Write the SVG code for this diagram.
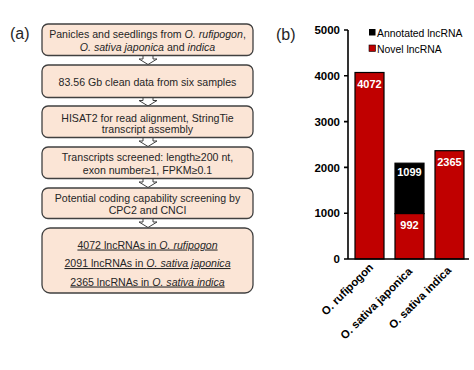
<svg xmlns="http://www.w3.org/2000/svg" width="474" height="370" viewBox="0 0 474 370">
<style>
text{font-family:"Liberation Sans",Arial,sans-serif;fill:#262626}
.box{fill:#FBE5D6;stroke:#404040;stroke-width:1.3}
.ft{font-size:10.6px;text-anchor:middle}
.arr{fill:#fff;stroke:#404040;stroke-width:1}
.lab{font-size:16px}
.tick{font-size:11.5px;font-weight:bold;text-anchor:end;fill:#000}
.ax{stroke:#000;stroke-width:1.6;fill:none}
.bar{stroke:#000;stroke-width:1.2}
.red{fill:#C00000}
.blk{fill:#000}
.bl{font-size:11px;font-weight:bold;fill:#fff;text-anchor:middle}
.xl{font-size:11.3px;font-weight:bold;text-anchor:end;fill:#000}
.lg{font-size:10.4px;fill:#000}
</style>
<rect width="474" height="370" fill="#fff"/>
<text class="lab" x="10" y="39">(a)</text>
<text class="lab" x="276" y="40">(b)</text>

<g id="connectors">
<path class="arr" d="M143,55.5 V59 H139 L148,64.5 L157,59 H153 V55.5"/>
<path class="arr" d="M143,97.5 V100.5 H139 L148,106 L157,100.5 H153 V97.5"/>
<path class="arr" d="M143,137.5 V141 H139 L148,146.5 L157,141 H153 V137.5"/>
<path class="arr" d="M143,178.5 V182 H139 L148,187.5 L157,182 H153 V178.5"/>
<path class="arr" d="M143,218.5 V222 H139 L148,227.5 L157,222 H153 V218.5"/>
</g>

<g id="n1">
<rect class="box" x="42" y="24" width="211" height="31.5" rx="6"/>
<text class="ft" x="147.5" y="38">Panicles and seedlings from <tspan font-style="italic">O. rufipogon</tspan>,</text>
<text class="ft" x="147.5" y="51"><tspan font-style="italic">O. sativa japonica</tspan> and <tspan font-style="italic">indica</tspan></text>
</g>
<g id="n2">
<rect class="box" x="42" y="65" width="211" height="32.5" rx="6"/>
<text class="ft" x="147.5" y="85.5">83.56 Gb clean data from six samples</text>
</g>
<g id="n3">
<rect class="box" x="42" y="106" width="211" height="31.5" rx="6"/>
<text class="ft" x="147.5" y="121.5">HISAT2 for read alignment,  StringTie</text>
<text class="ft" x="147.5" y="132.5">transcript assembly</text>
</g>
<g id="n4">
<rect class="box" x="42" y="147" width="211" height="31.5" rx="6"/>
<text class="ft" x="147.5" y="160.5">Transcripts screened: length≥200 nt,</text>
<text class="ft" x="147.5" y="173.5">exon number≥1,  FPKM≥0.1</text>
</g>
<g id="n5">
<rect class="box" x="42" y="188" width="211" height="30.5" rx="6"/>
<text class="ft" x="147.5" y="201.5">Potential coding capability screening by</text>
<text class="ft" x="147.5" y="213.5">CPC2 and CNCI</text>
</g>
<g id="n6">
<rect class="box" x="42" y="228" width="211" height="65" rx="8"/>
<text class="ft" x="147.5" y="248.5" text-decoration="underline">4072 lncRNAs  in <tspan font-style="italic">O.  rufipogon</tspan></text>
<text class="ft" x="147.5" y="267" text-decoration="underline">2091 lncRNAs  in <tspan font-style="italic">O.  sativa japonica</tspan></text>
<text class="ft" x="147.5" y="285.5" text-decoration="underline">2365 lncRNAs  in <tspan font-style="italic">O.  sativa indica</tspan></text>
</g>

<g id="chart">
<rect class="bar red" x="355" y="72.5" width="29" height="186.5"/>
<rect class="bar blk" x="395" y="163.2" width="29" height="50.4"/>
<rect class="bar red" x="395" y="213.6" width="29" height="45.4"/>
<rect class="bar red" x="435" y="150.7" width="29" height="108.3"/>
<path class="ax" d="M348,30 V259 H469 M344,30 H348 M344,75.8 H348 M344,121.6 H348 M344,167.4 H348 M344,213.2 H348 M344,259 H348"/>
<text class="tick" x="340" y="34">5000</text>
<text class="tick" x="340" y="80">4000</text>
<text class="tick" x="340" y="126">3000</text>
<text class="tick" x="340" y="172">2000</text>
<text class="tick" x="340" y="217">1000</text>
<text class="tick" x="340" y="263">0</text>
<text class="bl" x="369.5" y="88">4072</text>
<text class="bl" x="409.5" y="176">1099</text>
<text class="bl" x="409.5" y="229">992</text>
<text class="bl" x="449.5" y="166">2365</text>
<rect x="369" y="29" width="6.5" height="6.5" fill="#000"/>
<text class="lg" x="377" y="36.5">Annotated lncRNA</text>
<rect x="369" y="45" width="6.5" height="6.5" fill="#C00000" stroke="#000" stroke-width="0.6"/>
<text class="lg" x="377" y="52.5">Novel lncRNA</text>
<text class="xl" transform="translate(374,268) rotate(-45)">O. rufipogon</text>
<text class="xl" transform="translate(413,272) rotate(-45)">O. sativa japonica</text>
<text class="xl" transform="translate(452,271) rotate(-45)">O. sativa indica</text>
</g>
</svg>
